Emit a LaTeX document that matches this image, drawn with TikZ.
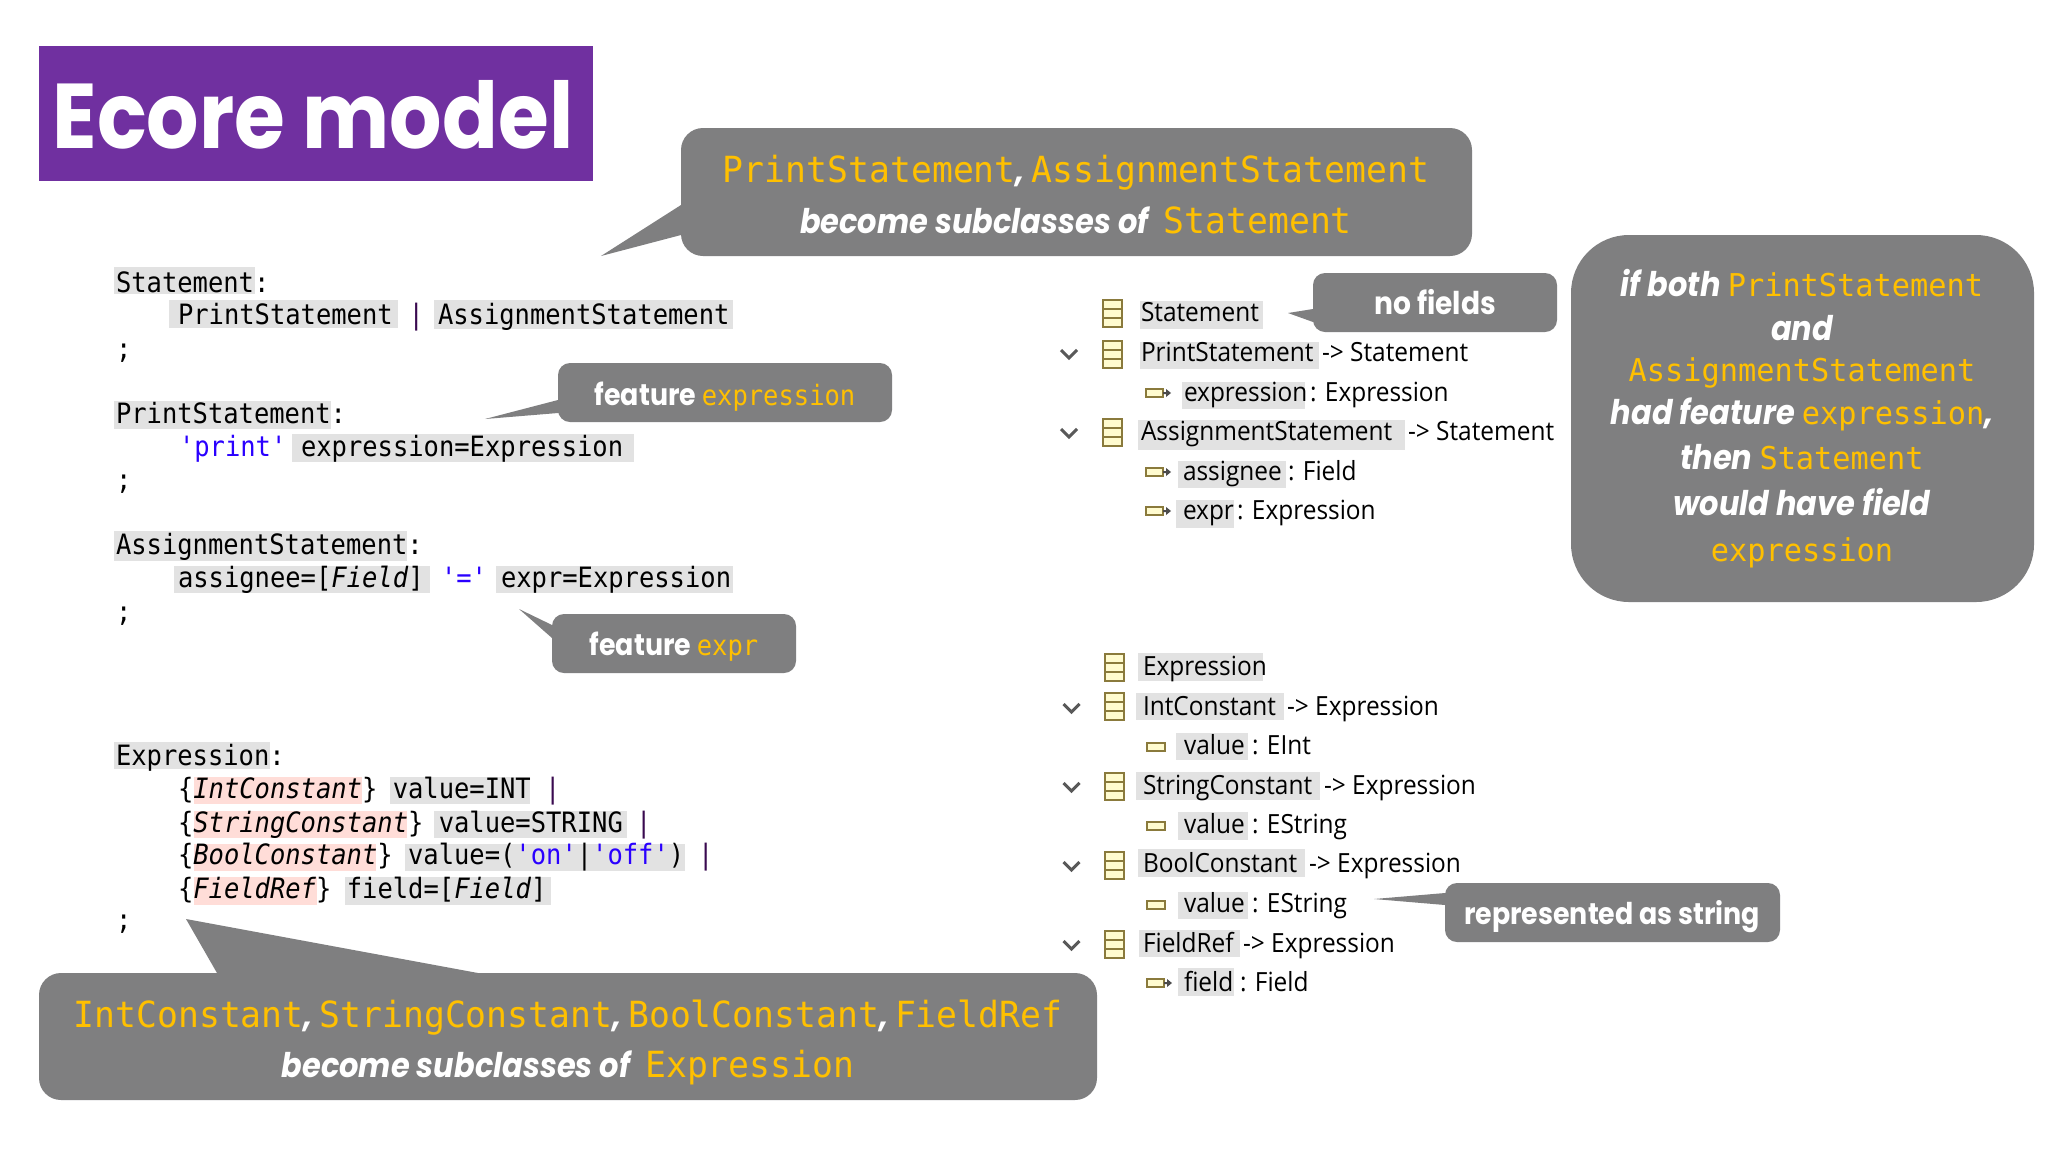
\documentclass[tikz,border=0pt]{standalone}
\usepackage{fontspec}
\setmainfont{Open Sans}
\newfontfamily\codef[FakeStretch=0.91]{DejaVu Sans Mono}
\newfontfamily\goldf[FakeStretch=0.965]{DejaVu Sans Mono}
\newfontfamily\headf[FakeStretch=0.895]{Poppins}
\newfontfamily\titlef[FakeStretch=0.895]{Poppins}
\newfontfamily\treef[FakeStretch=0.925]{Open Sans}
\definecolor{bubble}{HTML}{7F7F80}
\definecolor{gold}{HTML}{FFC000}
\definecolor{purp}{HTML}{7030A0}
\definecolor{hlgray}{HTML}{E2E2E2}
\definecolor{hlpink}{HTML}{FFDDD8}
\definecolor{strblue}{HTML}{2A00FF}
\definecolor{pipec}{HTML}{3A0A50}
\definecolor{iconf}{HTML}{FFFBCF}
\definecolor{icond}{HTML}{8A7A3C}
\tikzset{
  x=0.5pt,y=-0.5pt,
  txt/.style={inner sep=0pt,outer sep=0pt,anchor=base west},
  ctxt/.style={inner sep=0pt,outer sep=0pt,anchor=base},
  bub/.style={fill=bubble,draw=none},
  gr/.style={fill=hlgray},
  pk/.style={fill=hlpink},
}
\newcommand\C[4]{\node[txt] (#1) at (#2,#3+1.5) {\fontsize{14pt}{14pt}\codef #4};}
\newcommand\Tr[4]{\node[txt] (#1) at (#2,#3) {\fontsize{13.2pt}{14pt}\treef #4};}
\newcommand\HL[5]{\fill[#1] (#2,#3) rectangle (#4,#5);}
\newcommand\bubbox[6]{\node[bub,rounded corners=#6*0.5pt,inner sep=0pt,minimum width=(#4-#2)*0.5pt,minimum height=(#5-#3)*0.5pt] (#1) at ({(#2+#4)/2},{(#3+#5)/2}) {};}
\newcommand\yc[1]{{\fontsize{18pt}{18pt}\goldf\color{gold}#1}}
\newcommand\ycs[1]{{\fontsize{15.7pt}{18pt}\goldf\color{gold}#1}}
\newcommand\wi[1]{{\fontsize{17pt}{18pt}\headf\bfseries\itshape\color{white}#1}}
\newcommand\wb[1]{{\fontsize{15pt}{18pt}\headf\bfseries\color{white}#1}}
\newcommand\ys[1]{{\fontsize{14pt}{18pt}\codef\color{gold}#1}}
\newcommand\classicon[2]{%
  \draw[icond,fill=iconf,line width=1.2pt] (#1,#2) rectangle (#1+19,#2+27);
  \draw[icond,line width=.8pt] (#1,#2+9) -- (#1+19,#2+9) (#1,#2+18) -- (#1+19,#2+18);}
\newcommand\refcon[2]{%
  \draw[icond,fill=iconf,line width=1pt] (#1,#2-4) rectangle (#1+17,#2+4);
  \fill[black!70] (#1+17,#2-1) -- (#1+20,#2-1) -- (#1+20,#2-4) -- (#1+25,#2) -- (#1+20,#2+4) -- (#1+20,#2+1) -- (#1+17,#2+1) -- cycle;}
\newcommand\attricon[2]{\draw[icond,fill=iconf,line width=1pt] (#1,#2-4) rectangle (#1+18,#2+4);}
\newcommand\chev[2]{\draw[black!65,line width=1.5pt] (#1-8,#2-4) -- (#1,#2+4) -- (#1+8,#2-4);}
\begin{document}
\begin{tikzpicture}
\useasboundingbox (0,0) rectangle (2048,1152);
\fill[white] (0,0) rectangle (2048,1152);
% title
\node[fill=purp,inner sep=0pt,minimum width=277pt,minimum height=67.5pt] (titlebox) at (316,113.5) {};
\node[ctxt] (title) at (313,148) {\fontsize{46pt}{46pt}\titlef\bfseries\color{white}Ecore model};
% highlights: code
\HL{gr}{114}{267}{255}{294}
\HL{gr}{169}{300}{398}{328}
\HL{gr}{434}{300}{733}{329}
\HL{gr}{114}{401}{331}{429}
\HL{gr}{291.5}{434}{634}{462}
\HL{gr}{114}{531}{407}{561}
\HL{gr}{174}{566}{430}{593}
\HL{gr}{496}{566}{733}{593}
\HL{gr}{114}{742}{270}{769}
\HL{pk}{193.6}{777}{362}{804}
\HL{gr}{390}{777}{530}{804}
\HL{pk}{193.6}{811}{407}{838}
\HL{gr}{434}{811}{627}{838}
\HL{pk}{193.6}{844}{376}{871}
\HL{gr}{405}{844}{685}{871}
\HL{pk}{193.6}{877}{317}{905}
\HL{gr}{345}{877}{551}{905}
% code text
\C{c1}{116}{291}{Statement:}
\C{c2}{178}{323}{PrintStatement}
\C{c3}{408.5}{323}{\color{pipec}|}
\C{c4}{438}{323}{AssignmentStatement}
\C{c5}{116}{357}{;}
\C{c6}{116}{422}{PrintStatement:}
\C{c7}{179}{455}{\color{strblue}'print'}
\C{c8}{301}{455}{expression=Expression}
\C{c9}{116}{488}{;}
\C{c10}{116}{553}{AssignmentStatement:}
\C{c11}{178}{586}{assignee=[\textit{Field}]}
\C{c12}{441}{586}{\color{strblue}'='}
\C{c13}{501}{586}{expr=Expression}
\C{c14}{116}{620}{;}
\C{c15}{116}{764}{Expression:}
\C{c16}{178}{797}{\{\textit{IntConstant}\} value=INT}
\C{c17}{545}{797}{\color{pipec}|}
\C{c18}{178}{831}{\{\textit{StringConstant}\} value=STRING}
\C{c19}{636}{831}{\color{pipec}|}
\C{c20}{178}{863}{\{\textit{BoolConstant}\} value=({\color{strblue}'on'}|{\color{strblue}'off'})}
\C{c21}{698}{863}{\color{pipec}|}
\C{c22}{178}{897}{\{\textit{FieldRef}\} field=[\textit{Field}]}
\C{c23}{116}{928}{;}
% tree highlights
\HL{gr}{1140}{301}{1263}{329}
\HL{gr}{1140}{342}{1319}{369}
\HL{gr}{1182}{382}{1305}{409}
\HL{gr}{1138}{420}{1405}{450}
\HL{gr}{1178}{461}{1286}{488}
\HL{gr}{1176}{500}{1234}{528}
\HL{gr}{1138}{653}{1263}{681}
\HL{gr}{1136}{693}{1284}{720}
\HL{gr}{1176}{733}{1248}{760}
\HL{gr}{1136}{772}{1320}{800}
\HL{gr}{1178}{812}{1248}{840}
\HL{gr}{1138}{849}{1305}{877}
\HL{gr}{1178}{892}{1248}{919}
\HL{gr}{1139}{930}{1240}{957}
\HL{gr}{1178}{968}{1234}{996}
% tree icons
\classicon{1103}{300}\classicon{1103}{341}\classicon{1103}{419}
\classicon{1105}{654}\classicon{1105}{693}\classicon{1105}{773}\classicon{1105}{852}\classicon{1105}{931}
\chev{1069}{354}\chev{1069}{433}\chev{1071.5}{708}\chev{1071.5}{787}\chev{1071.5}{866}\chev{1071.5}{945}
\refcon{1146}{393}\refcon{1146}{472}\refcon{1146}{511}\refcon{1147}{983}
\attricon{1147}{747}\attricon{1147}{826}\attricon{1147}{905}
% tree text
\Tr{t1}{1141}{321}{Statement}
\Tr{t2}{1141}{361}{PrintStatement}
\Tr{t2b}{1322}{361}{-> Statement}
\Tr{t3}{1184}{401}{expression}
\Tr{t3b}{1310}{401}{: Expression}
\Tr{t4}{1141}{440}{AssignmentStatement}
\Tr{t4b}{1408}{440}{-> Statement}
\Tr{t5}{1183}{480}{assignee}
\Tr{t5b}{1288}{480}{: Field}
\Tr{t6}{1183}{519}{expr}
\Tr{t6b}{1237}{519}{: Expression}
\Tr{t7}{1143}{675}{Expression}
\Tr{t8}{1143}{715}{IntConstant}
\Tr{t8b}{1287}{715}{-> Expression}
\Tr{t9}{1184}{754}{value}
\Tr{t9b}{1252}{754}{: EInt}
\Tr{t10}{1143}{794}{StringConstant}
\Tr{t10b}{1324}{794}{-> Expression}
\Tr{t11}{1184}{833}{value}
\Tr{t11b}{1252}{833}{: EString}
\Tr{t12}{1143}{872}{BoolConstant}
\Tr{t12b}{1309}{872}{-> Expression}
\Tr{t13}{1184}{912}{value}
\Tr{t13b}{1252}{912}{: EString}
\Tr{t14}{1143}{952}{FieldRef}
\Tr{t14b}{1243}{952}{-> Expression}
\Tr{t15}{1184}{991}{field}
\Tr{t15b}{1240}{991}{: Field}
% callouts
\fill[bubble] (601,256) -- (681,205) -- (690,205) -- (690,235) -- (681,235) -- cycle;
\bubbox{ba}{681}{128}{1472}{256}{22}
\node[ctxt] (bat1) at (1076,182) {\yc{PrintStatement}\wi{, }\yc{AssignmentStatement}};
\node[ctxt] (bat2) at (1076,233) {\wi{become subclasses of\hspace{4pt} }\yc{Statement}};
\fill[bubble] (1288,313) -- (1313,309) -- (1320,309) -- (1320,322) -- (1313,322) -- cycle;
\bubbox{bb}{1313}{273}{1557}{332}{12}
\node[ctxt] (bbt) at (1435,314) {{\fontsize{15.7pt}{18pt}\headf\bfseries\color{white}no fields}};
\bubbox{bc}{1571}{235}{2034}{602}{58}
\node[ctxt] (bc1) at (1802,296) {\wi{if both }\ycs{PrintStatement}};
\node[ctxt] (bc2) at (1802,340) {\wi{and}};
\node[ctxt] (bc3) at (1802,381) {\ycs{AssignmentStatement}};
\node[ctxt] (bc4) at (1802,424) {\wi{had feature }\ycs{expression}\wi{,}};
\node[ctxt] (bc5) at (1802,469) {\wi{then }\ycs{Statement}};
\node[ctxt] (bc6) at (1802,515) {\wi{would have field}};
\node[ctxt] (bc7) at (1802,561) {\ycs{expression}};
\fill[bubble] (485,419) -- (558,400) -- (565,400) -- (565,413) -- (558,413) -- cycle;
\bubbox{bd}{558}{363}{892}{422}{12}
\node[ctxt] (bdt) at (725,405) {\wb{feature }\ys{expression}};
\fill[bubble] (519,609) -- (552,625) -- (560,625) -- (560,638) -- (552,638) -- cycle;
\bubbox{be}{552}{614}{796}{673}{12}
\node[ctxt] (bet) at (674,655) {\wb{feature }\ys{expr}};
\fill[bubble] (1374,899) -- (1445,893) -- (1452,893) -- (1452,905) -- (1445,905) -- cycle;
\bubbox{bf}{1445}{883}{1780}{942}{12}
\node[ctxt] (bft) at (1612,924) {\wb{represented as string}};
\fill[bubble] (186,919) -- (217,973) -- (217,980) -- (478,980) -- (478,973) -- cycle;
\bubbox{bg}{39}{973}{1097}{1100}{22}
\node[ctxt] (bgt1) at (568,1027) {\yc{IntConstant}\wi{, }\yc{StringConstant}\wi{, }\yc{BoolConstant}\wi{, }\yc{FieldRef}};
\node[ctxt] (bgt2) at (568,1077) {\wi{become subclasses of\hspace{4pt} }\yc{Expression}};
\end{tikzpicture}
\end{document}
